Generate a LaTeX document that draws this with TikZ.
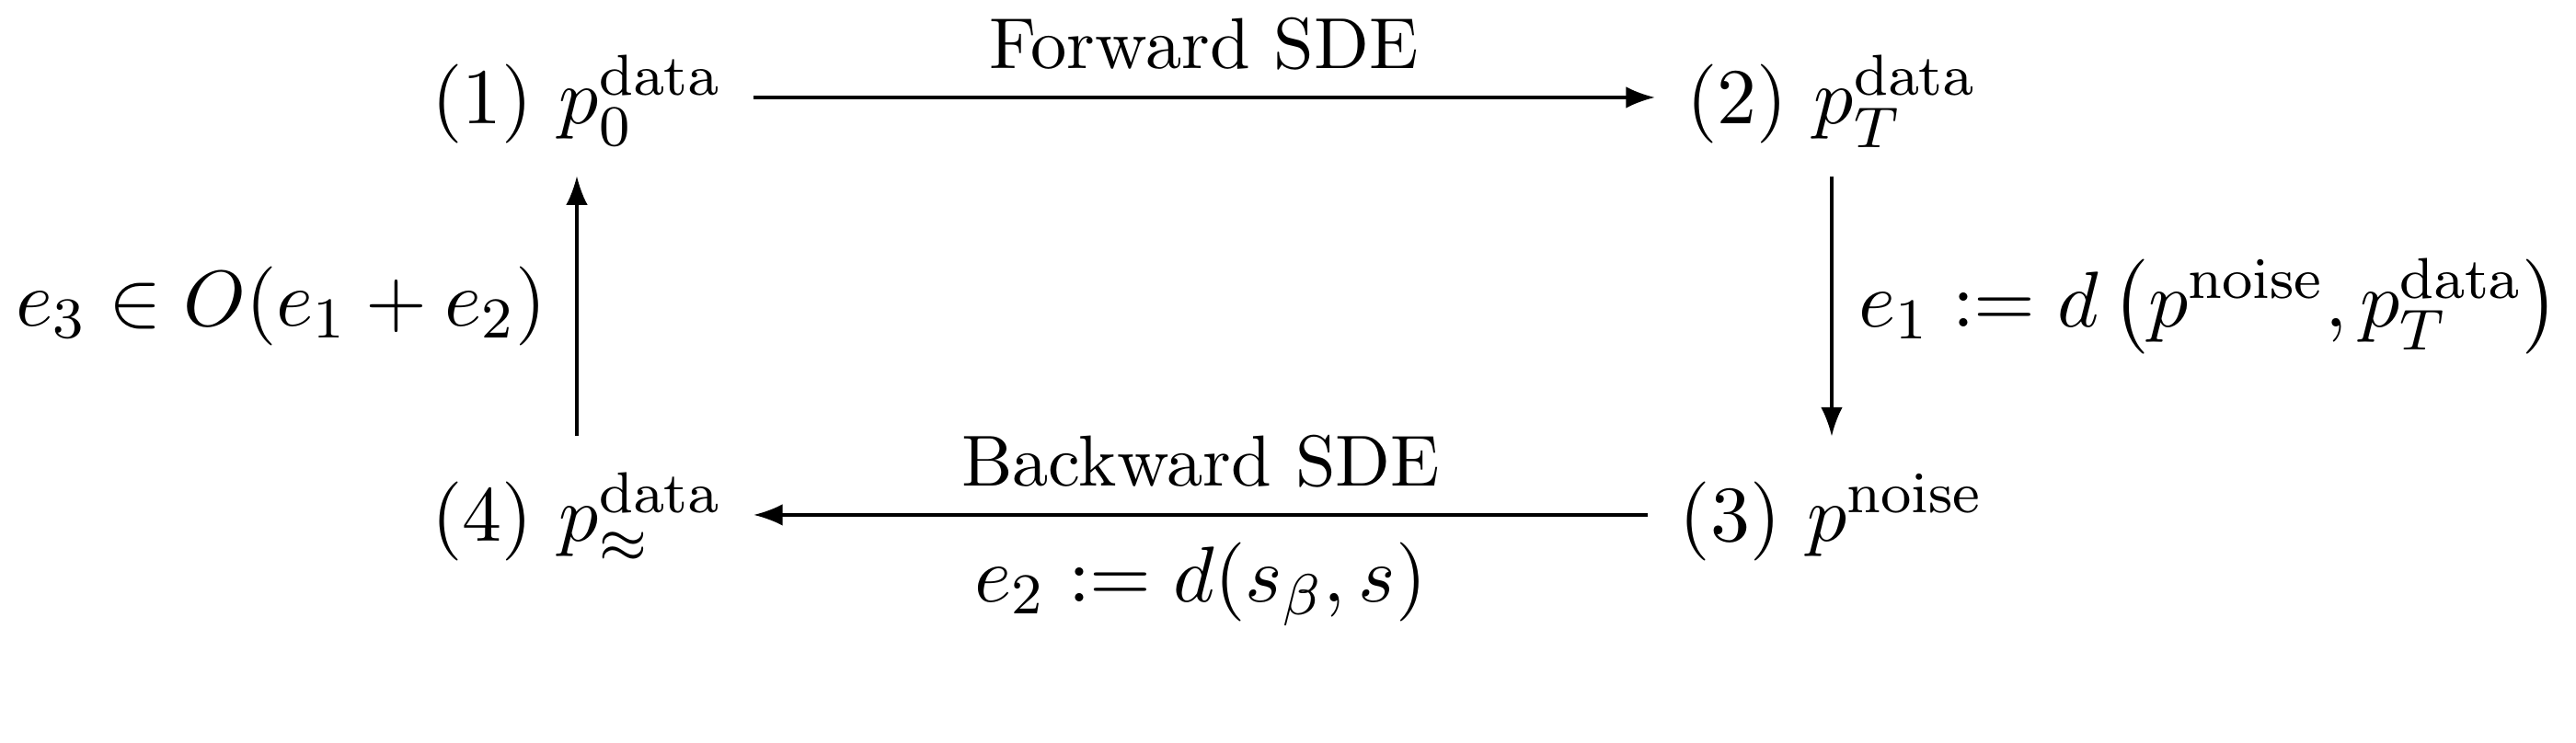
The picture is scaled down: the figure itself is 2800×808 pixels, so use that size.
\documentclass[tikz,border=0pt]{standalone}
\usepackage{exscale}
\usetikzlibrary{arrows.meta}
\newcommand\dlopen[1]{\mathopen{\hbox{$\left#1\vcenter to 12.4pt{}\right.\nulldelimiterspace=0pt$}}}
\newcommand\dlclose[1]{\mathclose{\hbox{$\left.\vcenter to 12.4pt{}\right#1\nulldelimiterspace=0pt$}}}
\begin{document}
\begin{tikzpicture}[x=0.1274pt,y=-0.1274pt,
  big/.style={font=\fontsize{10.95}{13.6}\selectfont},
  obj/.style={big, anchor=base, inner xsep=4.2pt, inner ysep=4.4pt, text height=10pt, text depth=2.6pt},
  conn/.style={-{Latex[length=4pt,width=3pt]}, line width=0.4pt},
  lbl/.style={inner sep=3.6pt}]
\useasboundingbox (0,0) rectangle (2800,808);
\node[obj] (A) at (627,135) {(1) $p_0^{\mathrm{data}}$};
\node[obj] (B) at (1991,135) {(2) $p_T^{\mathrm{data}}$};
\node[obj] (C) at (1991,589) {(3) $p^{\mathrm{noise}}$};
\node[obj] (D) at (627,589) {(4) $p_{\approx}^{\mathrm{data}}$};
\draw[conn] (A) -- node[above,lbl] (fw) {Forward SDE} (B);
\draw[conn] (B) -- node[right,lbl,big] (e1) {$e_1 := d\,\dlopen(p^{\mathrm{noise}}, p_T^{\mathrm{data}}\dlclose)$} (C);
\draw[conn] (C) -- node[above,lbl] (bw) {Backward SDE} node[below,lbl,big] (e2) {$e_2 := d(s_\beta, s)$} (D);
\draw[conn] (D) -- node[left,lbl,big,inner xsep=4pt] (e3) {$e_3 \in O(e_1 + e_2)$} (A);
\end{tikzpicture}
\end{document}
